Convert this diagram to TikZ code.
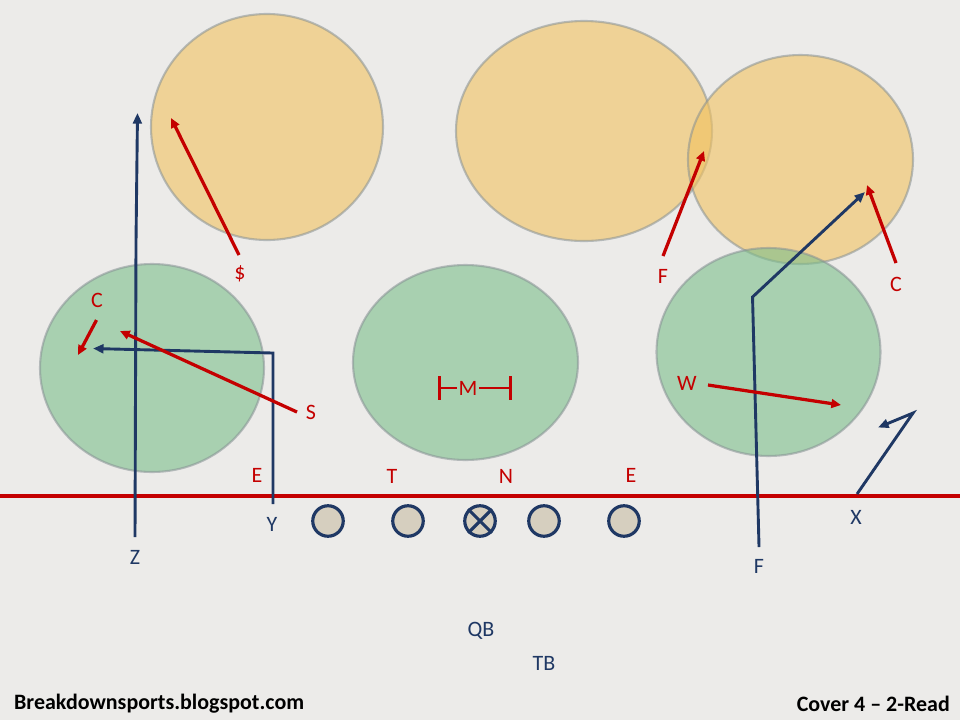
\documentclass[tikz,border=0pt]{standalone}
\usepackage{fontspec}
\setmainfont{Carlito}
\usepackage{tikz}
\usetikzlibrary{arrows.meta}
\definecolor{fieldgray}{RGB}{236,235,233}
\definecolor{deepgold}{RGB}{242,194,96}
\definecolor{undergreen}{RGB}{124,190,139}
\definecolor{zoneedge}{RGB}{135,145,148}
\definecolor{offnavy}{RGB}{31,56,100}
\definecolor{defred}{RGB}{196,0,0}
\definecolor{linetan}{RGB}{214,207,191}

\begin{document}
\begin{tikzpicture}[scale=0.4]
            \tikzstyle{every node}+=[inner sep=0pt, font=\fontsize{25}{30}\selectfont]
            \tikzstyle{deepzone}=[fill=deepgold, fill opacity=0.6, draw=zoneedge, draw opacity=0.55, line width=2.4pt]
            \tikzstyle{underzone}=[fill=undergreen, fill opacity=0.6, draw=zoneedge, draw opacity=0.55, line width=2.4pt]
            \tikzstyle{defn}=[text=defred]
            \tikzstyle{offn}=[text=offnavy]
            \tikzstyle{lineman}=[circle, draw=offnavy, line width=3.6pt, fill=linetan, minimum size=1.22cm]
            \tikzstyle{route}=[draw=offnavy, line width=3.3pt, line join=miter, -{Triangle[length=12pt,width=10pt]}]
            \tikzstyle{drop}=[draw=defred, line width=3.7pt, -{Triangle[length=11pt,width=10pt]}]
            \fill [fieldgray] (0,0) rectangle (96,-72);
            \useasboundingbox (0,0) rectangle (96,-72);
            \draw [deepzone] (26.7,-12.7) ellipse (11.6 and 11.3);
            \draw [deepzone] (58.4,-13.1) ellipse (12.8 and 11.0);
            \draw [deepzone] (80.05,-15.95) ellipse (11.25 and 10.45);
            \draw [underzone] (15.2,-36.8) ellipse (11.2 and 10.4);
            \draw [underzone] (46.55,-36.25) ellipse (11.25 and 9.75);
            \draw [underzone] (76.85,-35.2) ellipse (11.2 and 10.4);
            \coordinate (losL) at (0,-49.6);
            \coordinate (losR) at (96,-49.6);
            \draw [defred, line width=4pt] (losL) -- (losR);
            \node [lineman] (lt) at (32.8,-52.1) {};
            \node [lineman] (lg) at (40.8,-52.1) {};
            \node [lineman] (ctr) at (48.0,-52.1) {};
            \node [lineman] (rg) at (54.4,-52.1) {};
            \node [lineman] (rt) at (62.4,-52.1) {};
            \draw [offnavy, line width=3.6pt] (ctr.45) -- (ctr.225) (ctr.135) -- (ctr.315);
            \node [defn] (endL) at (25.7,-47.5) {E};
            \node [defn] (tack) at (39.2,-47.6) {T};
            \node [defn] (nose) at (50.6,-47.6) {N};
            \node [defn] (endR) at (63.1,-47.5) {E};
            \node [defn, inner sep=2pt] (mike) at (46.8,-38.8) {M};
            \node [defn] (strong) at (31.1,-41.2) {S};
            \node [defn] (cornL) at (9.7,-30.0) {C};
            \node [defn] (money) at (24.0,-27.4) {\$};
            \node [defn] (free) at (66.3,-27.6) {F};
            \node [defn] (cornR) at (89.6,-28.4) {C};
            \node [defn] (will) at (68.7,-38.3) {W};
            \node [offn] (zrec) at (13.5,-55.7) {Z};
            \node [offn] (yrec) at (27.2,-52.4) {Y};
            \node [offn] (frec) at (75.9,-56.6) {F};
            \node [offn] (xrec) at (85.6,-51.7) {X};
            \node [offn] (qb) at (48.1,-63.1) {QB};
            \node [offn] (tb) at (54.4,-66.3) {TB};
            \node [anchor=west, font=\fontsize{25}{30}\selectfont\bfseries] (site) at (1.4,-70.4) {Breakdownsports.blogspot.com};
            \node [anchor=east, font=\fontsize{25}{30}\selectfont\bfseries] (title) at (95.0,-70.4) {Cover 4 -- 2-Read};
            \coordinate (mL) at (43.8,-38.8);
            \coordinate (mR) at (51.2,-38.8);
            \draw [defred, line width=3.3pt, {Bar[width=27pt]}-] (mL) -- (mike.west);
            \draw [defred, line width=3.3pt, -{Bar[width=27pt]}] (mike.east) -- (mR);
            \coordinate (z0) at (13.5,-53.7);
            \coordinate (z1) at (13.6,-24.2);
            \coordinate (z2) at (13.75,-11.3);
            \draw [route] (z0) -- (z1) -- (z2);
            \coordinate (y0) at (27.3,-50.4);
            \coordinate (y1) at (27.3,-35.3);
            \coordinate (y2) at (9.3,-34.85);
            \draw [route] (y0) -- (y1) -- (y2);
            \coordinate (f0) at (75.9,-54.7);
            \coordinate (f1) at (75.25,-29.7);
            \coordinate (f2) at (86.5,-19.2);
            \draw [route] (f0) -- (f1) -- (f2);
            \coordinate (x0) at (85.7,-49.4);
            \coordinate (x1) at (91.3,-41.3);
            \coordinate (x2) at (87.8,-42.75);
            \draw [route] (x0) -- (x1) -- (x2);
            \coordinate (s0) at (23.9,-25.5);
            \coordinate (s1) at (17.1,-11.8);
            \draw [drop] (s0) -- (s1);
            \coordinate (cl0) at (9.65,-32.0);
            \coordinate (cl1) at (7.8,-35.5);
            \draw [drop] (cl0) -- (cl1);
            \coordinate (ss0) at (29.7,-41.2);
            \coordinate (ss1) at (12.0,-33.1);
            \draw [drop] (ss0) -- (ss1);
            \coordinate (fs0) at (66.3,-25.6);
            \coordinate (fs1) at (70.4,-15.1);
            \draw [drop] (fs0) -- (fs1);
            \coordinate (cr0) at (89.6,-26.3);
            \coordinate (cr1) at (86.7,-18.5);
            \draw [drop] (cr0) -- (cr1);
            \coordinate (w0) at (70.8,-38.5);
            \coordinate (w1) at (84.1,-40.5);
            \draw [drop] (w0) -- (w1);
\end{tikzpicture}
\end{document}
